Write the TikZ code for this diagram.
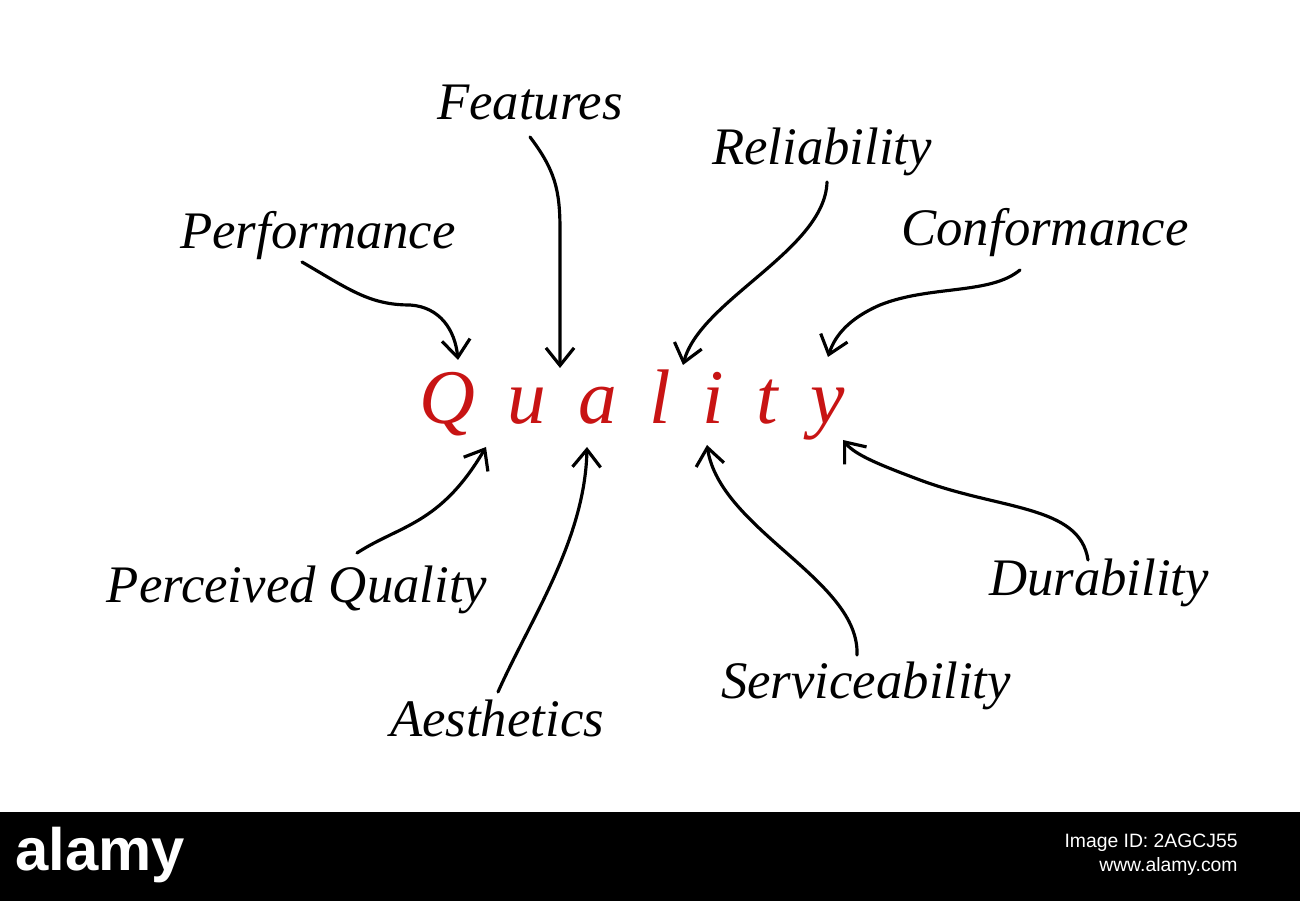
\documentclass[tikz,border=0pt]{standalone}
\usepackage{fontspec}
\setmainfont{Liberation Serif}
\newfontfamily\wm{Liberation Sans}
\usetikzlibrary{arrows.meta}
\begin{document}
\begin{tikzpicture}[x=0.01cm,y=-0.01cm,
  lab/.style={font=\fontsize{15}{18}\selectfont\itshape, text=black},
  arr/.style={-{Straight Barb[length=5pt,width=8pt]}, line width=0.9pt, line cap=round}]
\useasboundingbox (0,0) rectangle (1300,901);
\fill[white] (0,0) rectangle (1300,812);
\fill[black] (0,812) rectangle (1300,901);
\node[text=white, font=\wm\fontsize{17}{19}\selectfont\bfseries] (al) at (100,855) {alamy};
\node[text=white, font=\wm\fontsize{5.5}{7}\selectfont, anchor=east] (id) at (1250,843) {Image ID: 2AGCJ55};
\node[text=white, font=\wm\fontsize{5.5}{7}\selectfont, anchor=east] (www) at (1250,867) {www.alamy.com};

\node[lab] (fea) at (530,103) {Features};
\node[lab] (rel) at (822,152) {Reliability};
\node[lab] (per) at (318,236) {Performance};
\node[lab] (con) at (1045,233) {Conformance};
\node[lab] (pq) at (297,590) {Perceived Quality};
\node[lab] (aes) at (497,718) {Aesthetics};
\node[lab] (ser) at (866,686) {Serviceability};
\node[lab] (dur) at (1099,583) {Durability};
\node[font=\fontsize{22}{24}\selectfont\itshape, text={rgb,255:red,200;green,20;blue,20}] (q) at (632,405) {Q\, u\, a\, l\, i\, t\, y};

\coordinate (e1) at (458,360); \coordinate (e2) at (560,368);
\coordinate (e3) at (683,365); \coordinate (e4) at (828,357);
\coordinate (e5) at (486,447); \coordinate (e6) at (587,447);
\coordinate (e7) at (707,445); \coordinate (e8) at (843,440);

\draw[arr] (302,262) .. controls (350,290) and (370,305) .. (410,305) .. controls (440,307) and (455,330) .. (e1);
\draw[arr] (530,137) .. controls (555,170) and (560,190) .. (560,230) -- (e2);
\draw[arr] (827,182) .. controls (825,250) and (700,300) .. (e3);
\draw[arr] (1020,270) .. controls (990,295) and (930,285) .. (880,305) .. controls (850,318) and (835,335) .. (e4);
\draw[arr] (357,553) .. controls (400,525) and (440,525) .. (e5);
\draw[arr] (498,692) .. controls (530,620) and (585,540) .. (e6);
\draw[arr] (857,655) .. controls (860,580) and (720,530) .. (e7);
\draw[arr] (1088,560) .. controls (1080,505) and (1000,510) .. (920,480) .. controls (880,465) and (855,455) .. (e8);
\end{tikzpicture}
\end{document}
